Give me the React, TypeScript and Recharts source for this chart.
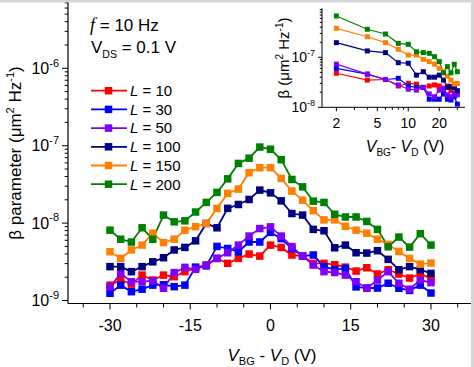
import { Line, LineChart, XAxis, YAxis } from "recharts";

const FONT = '"Liberation Sans", Arial, Helvetica, sans-serif';

// main panel: beta vs (VBG - VD), one value per 2 V step
const gateBias = [
  -30, -28, -26, -24, -22, -20, -18, -16, -14, -12, -10, -8, -6, -4, -2, 0,
  2, 4, 6, 8, 10, 12, 14, 16, 18, 20, 22, 24, 26, 28, 30,
];
const betaL10 = [
  1.58e-9, 1.84e-9, 1.63e-9, 2.13e-9, 1.84e-9, 2.13e-9, 2.03e-9, 2.36e-9, 2.6e-9, 2.87e-9, 3.5e-9, 3.02e-9, 3.5e-9, 3.98e-9, 3.75e-9, 5.2e-9,
  4.85e-9, 3.87e-9, 3.75e-9, 3.02e-9, 3.02e-9, 2.9e-9, 2.7e-9, 2.4e-9, 2.65e-9, 2.2e-9, 2.5e-9, 2.2e-9, 1.95e-9, 2.2e-9, 1.93e-9,
];
const betaL30 = [
  1.24e-9, 1.58e-9, 1.3e-9, 1.4e-9, 1.58e-9, 1.6e-9, 1.51e-9, 1.58e-9, 2.7e-9, 2.8e-9, 5.0e-9, 4.7e-9, 4.27e-9, 5.7e-9, 5.7e-9, 7.6e-9,
  6.3e-9, 4.7e-9, 3.75e-9, 3.87e-9, 2.74e-9, 2.5e-9, 2.6e-9, 1.5e-9, 1.45e-9, 1.45e-9, 1.67e-9, 1.44e-9, 1.35e-9, 1.58e-9, 1.25e-9,
];
const betaL50 = [
  1.5e-9, 2.24e-9, 1.75e-9, 1.75e-9, 1.8e-9, 1.44e-9, 2.29e-9, 2.68e-9, 2.53e-9, 2.87e-9, 3.5e-9, 4.14e-9, 5.2e-9, 6.8e-9, 8.5e-9, 8.95e-9,
  6.8e-9, 4.96e-9, 3.75e-9, 2.87e-9, 2.36e-9, 2.3e-9, 2.13e-9, 1.75e-9, 1.44e-9, 1.84e-9, 2.36e-9, 1.67e-9, 1.4e-9, 1.84e-9, 1.7e-9,
];
const betaL100 = [
  2.74e-9, 2.74e-9, 2.36e-9, 2.74e-9, 3.16e-9, 3.57e-9, 4.5e-9, 4.85e-9, 5.9e-9, 9.9e-9, 8.7e-9, 1.55e-8, 1.74e-8, 2.02e-8, 2.67e-8, 2.46e-8,
  1.94e-8, 1.33e-8, 1.27e-8, 8.3e-9, 7.96e-9, 4.8e-9, 5.2e-9, 4.14e-9, 4.1e-9, 4.4e-9, 3.4e-9, 2.5e-9, 2.74e-9, 2.5e-9, 2.24e-9,
];
const betaL150 = [
  4.27e-9, 3.5e-9, 4.5e-9, 5.2e-9, 7.4e-9, 5.6e-9, 6.2e-9, 8.1e-9, 9.0e-9, 9.9e-9, 1.55e-8, 2.42e-8, 2.75e-8, 4.47e-8, 5.2e-8, 5.2e-8,
  3.78e-8, 2.59e-8, 1.98e-8, 1.45e-8, 1.1e-8, 1.1e-8, 9.1e-9, 8.1e-9, 7.4e-9, 6.2e-9, 5.3e-9, 4.3e-9, 3.5e-9, 2.95e-9, 3.05e-9,
];
const betaL200 = [
  8.1e-9, 6.2e-9, 5.7e-9, 8.7e-9, 6.2e-9, 1.27e-8, 1.04e-8, 1.07e-8, 1.39e-8, 1.85e-8, 2.49e-8, 3.73e-8, 5.9e-8, 6.9e-8, 9.6e-8, 9.0e-8,
  6.6e-8, 3.66e-8, 2.94e-8, 1.92e-8, 1.85e-8, 1.3e-8, 1.2e-8, 1.2e-8, 1.05e-8, 8.3e-9, 4.95e-9, 6.6e-9, 4.9e-9, 7.3e-9, 5.2e-9,
];

// inset: log-log, positive bias only
const insetBias = [2, 4, 6, 8, 10, 12, 14, 16, 18, 20, 22, 24, 26, 28, 30];
const insetL10 = [4.8e-8, 3.5e-8, 3.6e-8, 2.67e-8, 3.0e-8, 2.9e-8, 2.5e-8, 2.67e-8, 2.8e-8, 2.67e-8, 2.3e-8, 2.67e-8, 2.15e-8, 2.4e-8, 2.05e-8];
const insetL30 = [6e-8, 4.6e-8, 3.6e-8, 3.8e-8, 2.67e-8, 2.5e-8, 2.5e-8, 1.45e-8, 1.45e-8, 1.45e-8, 1.85e-8, 1.45e-8, 1.4e-8, 1.63e-8, 1.16e-8];
const insetL50 = [7.3e-8, 4.6e-8, 3.6e-8, 2.8e-8, 2.3e-8, 2.2e-8, 2.5e-8, 1.85e-8, 1.63e-8, 2.2e-8, 2.4e-8, 1.77e-8, 1.63e-8, 1.9e-8, 1.77e-8];
const insetL100 = [1.96e-7, 1.34e-7, 1.24e-7, 7.8e-8, 7.6e-8, 4.4e-8, 5.15e-8, 4e-8, 4e-8, 4.4e-8, 3.5e-8, 2.5e-8, 2.6e-8, 2.5e-8, 2.15e-8];
const insetL150 = [3.8e-7, 2.58e-7, 1.96e-7, 1.45e-7, 1.11e-7, 1.11e-7, 9.1e-8, 8.2e-8, 7.3e-8, 6e-8, 5.15e-8, 4.2e-8, 3.5e-8, 2.92e-8, 3e-8];
const insetL200 = [6.7e-7, 3.63e-7, 2.92e-7, 1.9e-7, 1.82e-7, 1.29e-7, 1.24e-7, 1.2e-7, 1.03e-7, 8.2e-8, 4.9e-8, 6.5e-8, 4.9e-8, 7.25e-8, 5.15e-8];

const lengths = ["10", "30", "50", "100", "150", "200"];
const colors = ["#ff0000", "#0000ff", "#8000ff", "#000080", "#ff8000", "#008000"];
const mainSeries = [betaL10, betaL30, betaL50, betaL100, betaL150, betaL200];
const insetSeries = [insetL10, insetL30, insetL50, insetL100, insetL150, insetL200];

const mainXTicks = [-35, -30, -25, -20, -15, -10, -5, 0, 5, 10, 15, 20, 25, 30, 35];
const insetXTicks = [2, 3, 4, 5, 6, 7, 8, 9, 10, 20, 30];
const insetXLabels = [2, 5, 10, 20];

const mainYDomain = [9.15e-10, 7.4e-6];
const insetYDomain = [1e-8, 9.5e-7];

function logTicks(lo: number, hi: number) {
  const out: number[] = [];
  for (let e = -10; e <= -5; e++) {
    for (let m = 1; m <= 9; m++) {
      const v = Number(`${m}e${e}`);
      if (v >= lo && v <= hi) out.push(v);
    }
  }
  return out;
}

const mainData = gateBias.map((x, i) => {
  const row: Record<string, number> = { x };
  mainSeries.forEach((s, k) => (row[`s${k}`] = s[i]));
  return row;
});

const insetData = insetBias.map((x, i) => {
  const row: Record<string, number> = { x };
  insetSeries.forEach((s, k) => (row[`s${k}`] = s[i]));
  return row;
});

function isDecade(v: number) {
  const lg = Math.log10(v);
  return Math.abs(lg - Math.round(lg)) < 1e-6;
}

function squareDot(color: string, size: number) {
  return (p: any) => {
    const { cx, cy, index } = p;
    if (cx == null || cy == null) return <g key={index} />;
    return <rect key={index} x={cx - size / 2} y={cy - size / 2} width={size} height={size} fill={color} />;
  };
}

function LogYTick(props: any) {
  const { x, y, payload, big, sup, len } = props;
  const major = isDecade(payload.value);
  const exp = Math.round(Math.log10(payload.value));
  return (
    <g>
      <line x1={x} x2={x - (major ? len : len * 0.55)} y1={y} y2={y} stroke="#000" strokeWidth={1} />
      {major ? (
        <text x={x - len - 3} y={y + big * 0.34} textAnchor="end" fontSize={big} fontFamily={FONT} fill="#000">
          <tspan>10</tspan>
          <tspan dy={-big * 0.45} fontSize={sup}>
            {exp}
          </tspan>
        </text>
      ) : null}
    </g>
  );
}

function MainXTick(props: any) {
  const { x, y, payload } = props;
  const major = payload.value % 15 === 0;
  return (
    <g>
      <line x1={x} x2={x} y1={y} y2={y + (major ? 6 : 4)} stroke="#000" strokeWidth={1} />
      {major ? (
        <text x={x} y={y + 27} textAnchor="middle" fontSize={16} fontFamily={FONT} fill="#000">
          {payload.value}
        </text>
      ) : null}
    </g>
  );
}

function InsetXTick(props: any) {
  const { x, y, payload } = props;
  const major = insetXLabels.includes(payload.value);
  return (
    <g>
      <line x1={x} x2={x} y1={y} y2={y + (major ? 4 : 2.5)} stroke="#000" strokeWidth={1} />
      {major ? (
        <text x={x} y={y + 20.5} textAnchor="middle" fontSize={14} fontFamily={FONT} fill="#000">
          {payload.value}
        </text>
      ) : null}
    </g>
  );
}

function Overlay() {
  const legendTop = 90.7;
  const legendStep = 18.7;
  return (
    <svg width={474} height={367} style={{ position: "absolute", left: 0, top: 0, pointerEvents: "none" }}>
      <rect x={0} y={0} width={474} height={2.5} fill="#d6d6d6" />
      <rect x={471} y={0} width={3} height={367} fill="#d6d6d6" />

      <text x={90} y={30.5} fontSize={17} fontFamily={FONT} fill="#000">
        <tspan fontFamily='"Liberation Serif", serif' fontStyle="italic" fontSize={18}>f</tspan>
        <tspan> = 10 Hz</tspan>
      </text>
      <text x={91} y={53.3} fontSize={17} fontFamily={FONT} fill="#000">
        <tspan>V</tspan>
        <tspan fontSize={10.5} dy={5}>DS</tspan>
        <tspan dy={-5}> = 0.1 V</tspan>
      </text>

      {lengths.map((l, i) => {
        const cy = legendTop + i * legendStep;
        return (
          <g key={l}>
            <line x1={91} x2={127} y1={cy} y2={cy} stroke={colors[i]} strokeWidth={1.8} />
            <rect x={108.5 - 3.75} y={cy - 3.75} width={7.5} height={7.5} fill={colors[i]} />
            <text x={130} y={cy + 5.3} fontSize={15} fontFamily={FONT} fill="#000">
              <tspan fontStyle="italic">L</tspan>
              <tspan> = {l}</tspan>
            </text>
          </g>
        );
      })}

      <text
        x={21}
        y={153}
        transform="rotate(-90, 21, 153)"
        textAnchor="middle"
        fontSize={17}
        fontFamily={FONT}
        fill="#000"
      >
        <tspan>β parameter (μm</tspan>
        <tspan fontSize={11} dy={-7}>2</tspan>
        <tspan dy={7}> Hz</tspan>
        <tspan fontSize={11} dy={-7}>-1</tspan>
        <tspan dy={7}>)</tspan>
      </text>

      <text x={272} y={361} textAnchor="middle" fontSize={17} fontFamily={FONT} fill="#000">
        <tspan fontStyle="italic">V</tspan>
        <tspan fontSize={11} dy={4}>BG</tspan>
        <tspan dy={-4}> - </tspan>
        <tspan fontStyle="italic">V</tspan>
        <tspan fontSize={11} dy={4}>D</tspan>
        <tspan dy={-4}> (V)</tspan>
      </text>

      <text
        x={289}
        y={58}
        transform="rotate(-90, 289, 58)"
        textAnchor="middle"
        fontSize={15}
        fontFamily={FONT}
        fill="#000"
      >
        <tspan>β (μm</tspan>
        <tspan fontSize={10} dy={-6}>2</tspan>
        <tspan dy={6}> Hz</tspan>
        <tspan fontSize={10} dy={-6}>-1</tspan>
        <tspan dy={6}>)</tspan>
      </text>

      <text x={405} y={151.5} textAnchor="middle" fontSize={16} fontFamily={FONT} fill="#000">
        <tspan fontStyle="italic">V</tspan>
        <tspan fontSize={10} dy={4}>BG</tspan>
        <tspan dy={-4}>- </tspan>
        <tspan fontStyle="italic">V</tspan>
        <tspan fontSize={10} dy={4}>D</tspan>
        <tspan dy={-4}> (V)</tspan>
      </text>
    </svg>
  );
}

export default function App() {
  const mainYTicks = logTicks(mainYDomain[0], mainYDomain[1]);
  const insetYTicks = logTicks(insetYDomain[0], insetYDomain[1]);

  return (
    <div style={{ position: "absolute", left: 0, top: 0, width: 474, height: 367, background: "#fff", fontFamily: FONT }}>
      <div style={{ position: "absolute", left: 0, top: 0 }}>
        <LineChart width={474} height={367} data={mainData} margin={{ top: 1, right: 3, bottom: 0, left: 0 }}>
          <XAxis
            dataKey="x"
            type="number"
            domain={[-37.85, 37.48]}
            allowDataOverflow
            ticks={mainXTicks}
            interval={0}
            tickSize={0}
            tickMargin={0}
            tickLine={false}
            tick={<MainXTick />}
            height={63.5}
            stroke="#000"
            strokeWidth={1.2}
          />
          <YAxis
            type="number"
            scale="log"
            domain={mainYDomain}
            allowDataOverflow
            ticks={mainYTicks}
            interval={0}
            tickSize={0}
            tickMargin={0}
            tickLine={false}
            tick={<LogYTick big={16} sup={11} len={6} />}
            width={68}
            stroke="#000"
            strokeWidth={1.2}
          />
          {colors.map((c, k) => (
            <Line
              key={k}
              dataKey={`s${k}`}
              stroke={c}
              strokeWidth={1.8}
              dot={squareDot(c, 7.5)}
              activeDot={false}
              isAnimationActive={false}
              type="linear"
            />
          ))}
        </LineChart>
      </div>

      <div style={{ position: "absolute", left: 262, top: 0 }}>
        <LineChart width={212} height={165} data={insetData} margin={{ top: 8.4, right: 9, bottom: 0, left: 0 }}>
          <XAxis
            dataKey="x"
            type="number"
            scale="log"
            domain={[1.45, 35.6]}
            allowDataOverflow
            ticks={insetXTicks}
            interval={0}
            tickSize={0}
            tickMargin={0}
            tickLine={false}
            tick={<InsetXTick />}
            height={57.7}
            stroke="#000"
          />
          <XAxis
            xAxisId="top"
            orientation="top"
            dataKey="x"
            type="number"
            scale="log"
            domain={[1.45, 35.6]}
            allowDataOverflow
            tick={false}
            tickLine={false}
            height={0}
            stroke="#000"
          />
          <YAxis
            type="number"
            scale="log"
            domain={insetYDomain}
            allowDataOverflow
            ticks={insetYTicks}
            interval={0}
            tickSize={0}
            tickMargin={0}
            tickLine={false}
            tick={<LogYTick big={14} sup={9} len={4} />}
            width={60}
            stroke="#000"
          />
          <YAxis
            yAxisId="right"
            orientation="right"
            type="number"
            scale="log"
            domain={insetYDomain}
            allowDataOverflow
            tick={false}
            tickLine={false}
            width={0}
            stroke="#000"
          />
          {colors.map((c, k) => (
            <Line
              key={k}
              dataKey={`s${k}`}
              stroke={c}
              strokeWidth={1.2}
              dot={squareDot(c, 5)}
              activeDot={false}
              isAnimationActive={false}
              type="linear"
            />
          ))}
        </LineChart>
      </div>

      <Overlay />
    </div>
  );
}
